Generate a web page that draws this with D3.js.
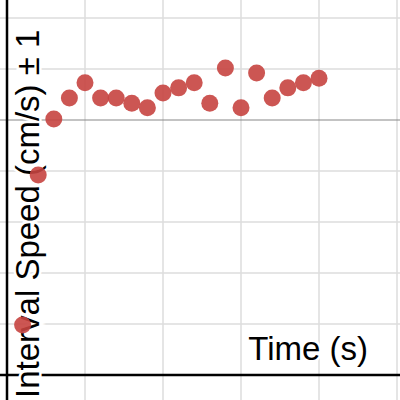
<!DOCTYPE html>
<html>
<head>
<script src="https://cdn.jsdelivr.net/npm/d3@7"></script>
<style>body{margin:0}</style>
</head>
<body>
<svg width="400" height="400" id="mainsvg"></svg>
<script>
const times = [0.2,0.4,0.6,0.8,1.0,1.2,1.4,1.6,1.8,2.0,2.2,2.4,2.6,2.8,3.0,3.2,3.4,3.6,3.8,4.0];
const speeds = [0.98,3.92,5.02,5.43,5.73,5.43,5.43,5.33,5.24,5.53,5.63,5.73,5.33,6.02,5.24,5.92,5.43,5.63,5.73,5.82];
const xTicks = [-1,0,1,2,3,4,5];
const yTicks = [-1,0,1,2,3,4,5,6,7];
const refLine = 5;

const svg = d3.select('#mainsvg');
const x = d3.scaleLinear().domain([0, 1]).range([7, 85]);
const y = d3.scaleLinear().domain([0, 1]).range([375, 324]);

svg.append('rect').attr('width', 400).attr('height', 400).attr('fill', 'white');
const grid = svg.append('g');
grid.selectAll('.vx').data(xTicks.filter(d => d !== 0)).join('line')
  .attr('x1', d => x(d)).attr('x2', d => x(d)).attr('y1', 0).attr('y2', 400)
  .attr('stroke', '#dcdcdc').attr('stroke-width', 1.5);
grid.selectAll('.hy').data(yTicks.filter(d => d !== 0 && d !== refLine)).join('line')
  .attr('y1', d => y(d)).attr('y2', d => y(d)).attr('x1', 0).attr('x2', 400)
  .attr('stroke', '#dcdcdc').attr('stroke-width', 1.5);
grid.append('line').attr('x1', 0).attr('x2', 400).attr('y1', y(refLine)).attr('y2', y(refLine))
  .attr('stroke', '#888').attr('stroke-width', 1.2);

svg.append('line').attr('x1', x(0)).attr('x2', x(0)).attr('y1', 0).attr('y2', 400)
  .attr('stroke', 'black').attr('stroke-width', 2.5);
svg.append('line').attr('x1', 0).attr('x2', 400).attr('y1', y(0)).attr('y2', y(0))
  .attr('stroke', 'black').attr('stroke-width', 2.5);

const font = '"Liberation Sans", Arial, sans-serif';
svg.append('text').text('Interval Speed (cm/s) ± 1')
  .attr('transform', 'translate(39,398) rotate(-90)')
  .attr('font-family', font).attr('font-size', 33)
  .attr('stroke', 'white').attr('stroke-width', 5).attr('paint-order', 'stroke');
svg.append('text').text('Time (s)')
  .attr('x', 368).attr('y', 360).attr('text-anchor', 'end')
  .attr('font-family', font).attr('font-size', 33)
  .attr('stroke', 'white').attr('stroke-width', 5).attr('paint-order', 'stroke');

svg.selectAll('circle').data(times).join('circle')
  .attr('cx', d => x(d)).attr('cy', (d, i) => y(speeds[i])).attr('r', 8.5)
  .attr('fill', '#c74440').attr('fill-opacity', 0.9);
</script>
</body>
</html>
